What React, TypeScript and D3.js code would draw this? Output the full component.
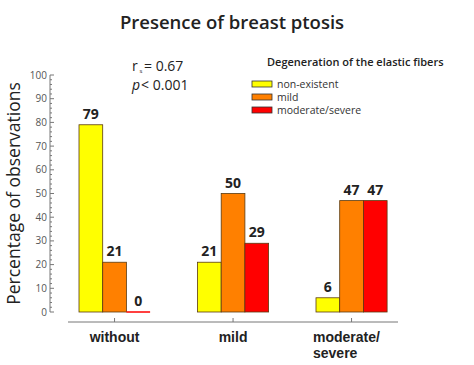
import React, { useEffect, useRef } from 'react';
import * as d3 from 'd3';

const groups = ['without', 'mild', 'moderate/severe'];
const groupLines = [['without'], ['mild'], ['moderate/', 'severe']];
const series = ['non-existent', 'mild', 'moderate/severe'];
const colors = ['#ffff00', '#ff8000', '#ff0000'];
const nonExistent = [79, 21, 6];
const mild = [21, 50, 47];
const moderateSevere = [0, 29, 47];
const yTicks = [0, 10, 20, 30, 40, 50, 60, 70, 80, 90, 100];

const App: React.FC = () => {
  const chartRef = useRef<SVGSVGElement>(null);

  useEffect(() => {
    if (!chartRef.current) return;
    const svg = d3.select(chartRef.current);
    svg.selectAll('*').remove();

    const font = "'Open Sans', sans-serif";
    const values = [nonExistent, mild, moderateSevere];

    const x = d3.scaleBand<string>()
      .domain(groups)
      .range([55.3, 410.8])
      .paddingInner(0.4)
      .paddingOuter(0.2);
    const xs = d3.scaleBand<string>()
      .domain(series)
      .range([0, x.bandwidth()]);
    const y = d3.scaleLinear().domain([0, 100]).range([312, 75]);

    // title
    svg.append('text')
      .attr('x', 232)
      .attr('y', 29)
      .attr('text-anchor', 'middle')
      .style('font-family', font)
      .style('font-size', '18.5px')
      .style('font-weight', 600)
      .attr('fill', '#222')
      .text('Presence of breast ptosis');

    // y axis
    const axisX = 50;
    svg.append('line')
      .attr('x1', axisX).attr('x2', axisX)
      .attr('y1', y(100)).attr('y2', y(0))
      .attr('stroke', '#777').attr('stroke-width', 1);
    const minor = d3.range(0, 101, 2);
    svg.append('g').selectAll('line')
      .data(minor)
      .enter()
      .append('line')
      .attr('x1', axisX)
      .attr('x2', d => axisX + (d % 10 === 0 ? 4 : 2))
      .attr('y1', d => y(d))
      .attr('y2', d => y(d))
      .attr('stroke', '#777');
    svg.append('g').selectAll('text')
      .data(yTicks)
      .enter()
      .append('text')
      .attr('x', axisX - 3)
      .attr('y', d => y(d) + 3.5)
      .attr('text-anchor', 'end')
      .style('font-family', font)
      .style('font-size', '10px')
      .attr('fill', '#555')
      .text(d => d);

    svg.append('text')
      .attr('transform', `translate(20,${(y(0) + y(100)) / 2}) rotate(-90)`)
      .attr('text-anchor', 'middle')
      .style('font-family', font)
      .style('font-size', '17.5px')
      .attr('fill', '#222')
      .text('Percentage of observations');

    // x axis
    svg.append('line')
      .attr('x1', 68).attr('x2', 398)
      .attr('y1', 322).attr('y2', 322)
      .attr('stroke', '#777');
    groups.forEach((g, gi) => {
      const cx = (x(g) || 0) + x.bandwidth() / 2;
      svg.append('line')
        .attr('x1', cx).attr('x2', cx)
        .attr('y1', 322).attr('y2', 318)
        .attr('stroke', '#777');
      const lines = groupLines[gi];
      lines.forEach((l, li) => {
        svg.append('text')
          .attr('x', lines.length > 1 ? (x(g) || 0) - 3 : cx)
          .attr('y', 342 + li * 16)
          .attr('text-anchor', lines.length > 1 ? 'start' : 'middle')
          .style('font-family', "'Liberation Sans', Arial, sans-serif")
          .style('font-size', '14px')
          .style('font-weight', 700)
          .attr('fill', '#222')
          .text(l);
      });
    });

    // bars
    groups.forEach((g, gi) => {
      series.forEach((s, si) => {
        const v = values[si][gi];
        const bx = (x(g) || 0) + (xs(s) || 0);
        if (v > 0) {
          svg.append('rect')
            .attr('x', bx)
            .attr('y', y(v))
            .attr('width', xs.bandwidth())
            .attr('height', y(0) - y(v))
            .attr('fill', colors[si])
            .attr('stroke', '#5a3a10')
            .attr('stroke-width', 0.8);
        } else {
          svg.append('line')
            .attr('x1', bx).attr('x2', bx + xs.bandwidth())
            .attr('y1', y(0)).attr('y2', y(0))
            .attr('stroke', colors[si]).attr('stroke-width', 1.5);
        }
        svg.append('text')
          .attr('x', bx + xs.bandwidth() / 2)
          .attr('y', y(v) - 6)
          .attr('text-anchor', 'middle')
          .style('font-family', font)
          .style('font-size', '14px')
          .style('font-weight', 700)
          .attr('fill', '#222')
          .text(v);
      });
    });

    // statistics
    svg.append('text')
      .attr('x', 132)
      .attr('y', 71)
      .style('font-family', font)
      .style('font-size', '14px')
      .attr('fill', '#222')
      .text('r');
    svg.append('text')
      .attr('x', 139.5)
      .attr('y', 73)
      .style('font-family', font)
      .style('font-size', '6px')
      .attr('fill', '#222')
      .text('s');
    svg.append('text')
      .attr('x', 144)
      .attr('y', 71)
      .style('font-family', font)
      .style('font-size', '14px')
      .attr('fill', '#222')
      .text('= 0.67');
    const p = svg.append('text')
      .attr('x', 132)
      .attr('y', 90)
      .style('font-family', font)
      .style('font-size', '14px')
      .attr('fill', '#222');
    p.append('tspan').style('font-style', 'italic').text('p');
    p.append('tspan').attr('dx', 1).text('< 0.001');

    // legend
    svg.append('text')
      .attr('x', 267)
      .attr('y', 66)
      .style('font-family', font)
      .style('font-size', '11px')
      .style('font-weight', 600)
      .attr('fill', '#222')
      .text('Degeneration of the elastic fibers');
    series.forEach((s, si) => {
      const ly = 84 + si * 13;
      svg.append('rect')
        .attr('x', 252)
        .attr('y', ly - 3)
        .attr('width', 20)
        .attr('height', 6)
        .attr('fill', colors[si])
        .attr('stroke', '#333')
        .attr('stroke-width', 0.8);
      svg.append('text')
        .attr('x', 277)
        .attr('y', ly + 4)
        .style('font-family', font)
        .style('font-size', '10.5px')
        .attr('fill', '#333')
        .text(s);
    });
  }, []);

  return (
    <svg
      ref={chartRef}
      width={474}
      height={365}
      style={{ position: 'absolute', left: 0, top: 0, background: '#fff' }}
    />
  );
};

export default App;
